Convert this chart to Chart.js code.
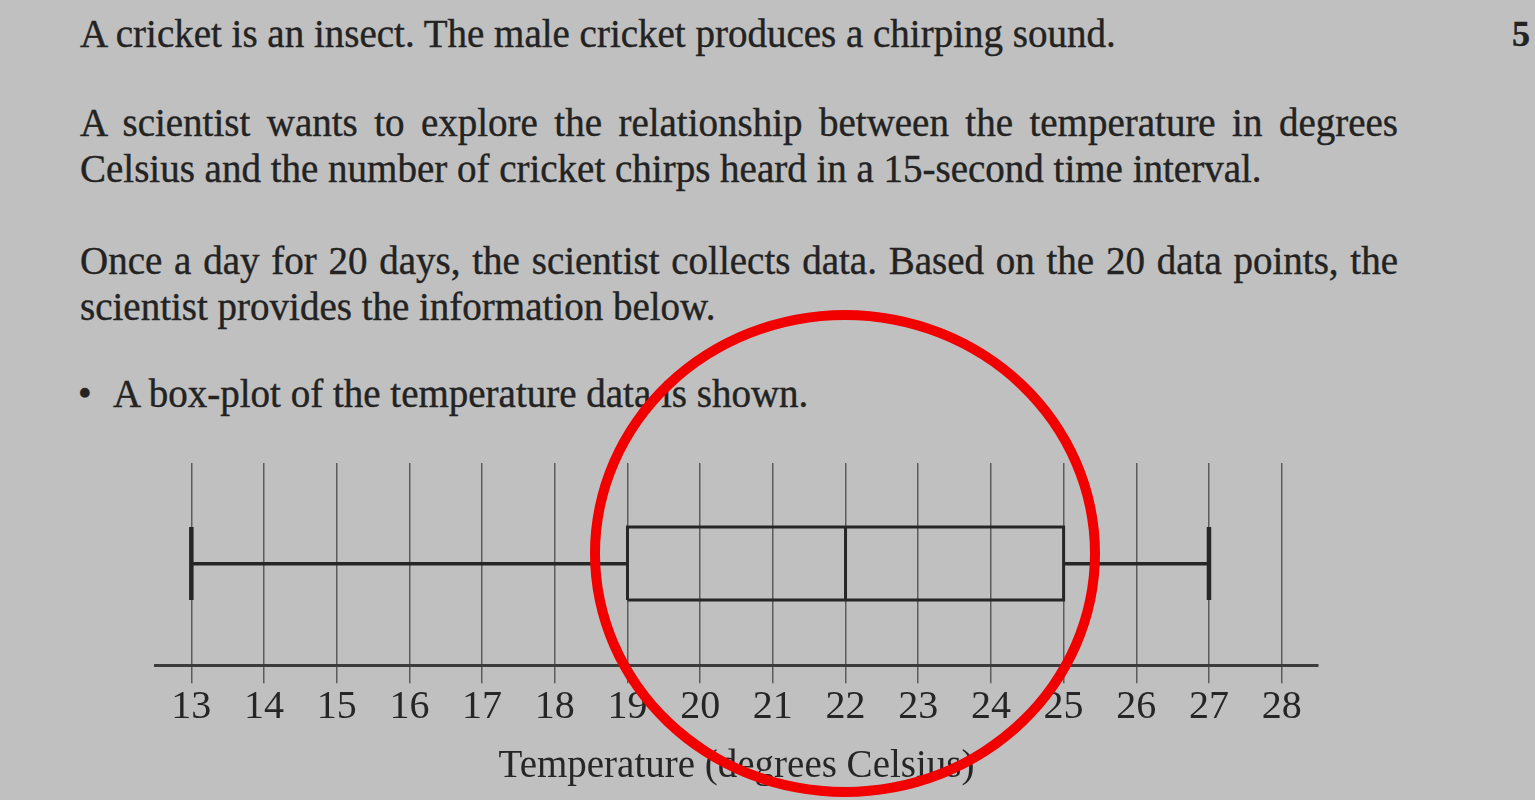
<!DOCTYPE html>
<html>
<head>
<meta charset="utf-8">
<title>Cricket temperature box plot</title>
<script src="https://cdn.jsdelivr.net/npm/chart.js@4.4.1/dist/chart.umd.min.js"></script>
<style>
  html, body { margin: 0; padding: 0; }
  body {
    width: 1535px; height: 800px; overflow: hidden; position: relative;
    background: #c0c0c0; color: #232323;
    font-family: "Liberation Serif", "DejaVu Serif", serif;
    font-size: 39px; line-height: 46px;
    -webkit-text-stroke: 0.4px #232323;
  }
  .line { position: absolute; left: 80px; white-space: nowrap; }
  .just { width: 1318px; text-align: justify; text-align-last: justify; white-space: normal; }
  #pagenum { position: absolute; left: 1512px; top: 11px; font-weight: bold; font-size: 36px; }
  #bullet { position: absolute; left: 78px; top: 371px; }
  #bulletText { position: absolute; left: 113px; top: 371px; white-space: nowrap; }
  #chartBox { position: absolute; left: 0; top: 440px; }
  #ring {
    position: absolute; left: 590px; top: 310px; width: 490px; height: 467px;
    border: 10px solid #f20000; border-radius: 50%; pointer-events: none;
  }
</style>
</head>
<body>
<div class="line" style="top:11px">A cricket is an insect. The male cricket produces a chirping sound.</div>
<div id="pagenum">5</div>

<div class="line just" style="top:100px">A scientist wants to explore the relationship between the temperature in degrees</div>
<div class="line" style="top:146px">Celsius and the number of cricket chirps heard in a 15-second time interval.</div>

<div class="line just" style="top:238px">Once a day for 20 days, the scientist collects data. Based on the 20 data points, the</div>
<div class="line" style="top:284px">scientist provides the information below.</div>

<div id="bullet">&bull;</div>
<div id="bulletText">A box-plot of the temperature data is shown.</div>

<div id="chartBox"><canvas id="boxChart" width="1535" height="360"></canvas></div>
<div id="ring"></div>

<script>
// five-number summary of the temperature data (degrees Celsius)
var summaryLabels = ["Minimum", "Lower quartile", "Median", "Upper quartile", "Maximum"];
var summaryValues = [13, 19, 22, 25, 27];

// tick labels on the temperature axis
var tickValues = [13, 14, 15, 16, 17, 18, 19, 20, 21, 22, 23, 24, 25, 26, 27, 28];

var axisTitle = "Temperature (degrees Celsius)";

// vertical placement of the box inside the (hidden) y scale
var boxLow = 0.322, boxHigh = 0.683, boxMid = 0.502;

var minV = summaryValues[0], q1 = summaryValues[1], med = summaryValues[2],
    q3 = summaryValues[3], maxV = summaryValues[4];

var ink = "#262626";
function seg(points, width) {
  return {
    data: points,
    showLine: true,
    borderColor: ink,
    borderWidth: width,
    pointRadius: 0,
    fill: false,
    tension: 0,
    borderCapStyle: "butt"
  };
}

var datasets = [
  // box from Q1 to Q3
  seg([{x: q1, y: boxLow}, {x: q3, y: boxLow}, {x: q3, y: boxHigh}, {x: q1, y: boxHigh}, {x: q1, y: boxLow}], 3),
  // median
  seg([{x: med, y: boxLow}, {x: med, y: boxHigh}], 3),
  // whiskers
  seg([{x: minV, y: boxMid}, {x: q1, y: boxMid}], 3.5),
  seg([{x: q3, y: boxMid}, {x: maxV, y: boxMid}], 3.5),
  // whisker ends
  seg([{x: minV, y: boxLow}, {x: minV, y: boxHigh}], 4.5),
  seg([{x: maxV, y: boxLow}, {x: maxV, y: boxHigh}], 4.5)
];

var ctx = document.getElementById("boxChart").getContext("2d");
var boxChart = new Chart(ctx, {
  type: "scatter",
  data: { datasets: datasets },
  options: {
    responsive: false,
    animation: false,
    layout: { padding: { left: 155, right: 217, top: 23, bottom: 8 } },
    plugins: { legend: { display: false }, tooltip: { enabled: false } },
    scales: {
      x: {
        type: "linear",
        min: tickValues[0] - 0.5,
        max: tickValues[tickValues.length - 1] + 0.5,
        afterBuildTicks: function (axis) {
          axis.ticks = tickValues.map(function (v) { return { value: v }; });
        },
        grid: { color: "#5c5c5c", lineWidth: 1.5, tickLength: 18, drawTicks: true },
        border: { display: true, color: "#3c3c3c", width: 3 },
        ticks: {
          color: ink,
          padding: 0,
          maxRotation: 0,
          autoSkip: false,
          font: { family: "Liberation Serif", size: 40 }
        },
        title: {
          display: true,
          text: axisTitle,
          color: ink,
          padding: { top: 12, bottom: 2 },
          font: { family: "Liberation Serif", size: 39 }
        }
      },
      y: { type: "linear", min: 0, max: 1, display: false }
    }
  }
});
</script>
</body>
</html>
